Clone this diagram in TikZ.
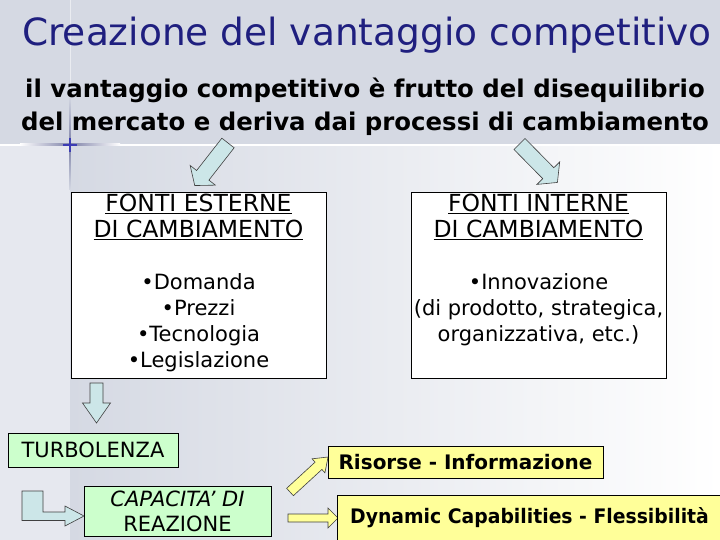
\documentclass[tikz,border=0pt]{standalone}
\usepackage{fontspec}
\setmainfont{DejaVu Sans}
\definecolor{bgtop}{HTML}{D5D9E3}
\definecolor{bgstrip}{HTML}{E6E8EF}
\definecolor{arrowblue}{HTML}{CCE6E8}
\definecolor{boxgreen}{HTML}{CCFFCC}
\definecolor{boxyellow}{HTML}{FFFF99}
\definecolor{navy}{HTML}{1F1F7F}
\definecolor{crossblue}{HTML}{3C3CB4}
\definecolor{crossgray}{HTML}{7E82A8}
\newcommand{\hdrline}[1]{{\fontsize{23.5}{26}\selectfont\underline{#1}}}
\begin{document}
\begin{tikzpicture}[x=1pt,y=-1pt,
  box/.style={draw=black, line width=0.8pt, rectangle, inner sep=0pt},
  txt/.style={align=center, inner sep=0pt},
  bluearrow/.style={draw=black!75, line width=0.6pt, fill=arrowblue, line join=miter},
  yellowarrow/.style={draw=black!75, line width=0.6pt, fill=boxyellow, line join=miter},
  pics/barrow/.style args={#1/#2/#3/#4}{code={
    \path[pic actions] (0,-#2) -- ({#1-#4},-#2) -- ({#1-#4},-#3) -- (#1,0)
      -- ({#1-#4},#3) -- ({#1-#4},#2) -- (0,#2) -- cycle;}}
]
\useasboundingbox (0,0) rectangle (720,540);
% background
\fill[bgtop] (0,0) rectangle (720,145);
\shade[left color=bgtop, right color=white] (70,145) rectangle (720,540);
\fill[bgstrip] (0,145) rectangle (70,540);
\fill[white] (0,144) rectangle (720,146);
\shade[left color=white, right color=crossgray] (20,144) rectangle (70,146);
\shade[left color=crossgray, right color=white] (70,144) rectangle (120,146);
\shade[top color=bgtop, bottom color=crossgray] (69.2,95) rectangle (70.8,145);
\shade[top color=crossgray, bottom color=bgtop] (69.2,145) rectangle (70.8,190);
\fill[crossblue] (63,144.2) rectangle (77,145.8);
\fill[crossblue] (69.2,138) rectangle (70.8,152);
\fill[white, opacity=0.5] (69.5,0) rectangle (70.5,95);

% title and subtitle
\node[txt, text=navy, font=\fontsize{37.5}{44}\selectfont] (title) at (367,35)
  {Creazione del vantaggio competitivo};
\node[txt, font=\fontsize{24.4}{33}\selectfont\bfseries] (sub) at (365,107)
  {il vantaggio competitivo è frutto del disequilibrio\\del mercato e deriva dai processi di cambiamento};

% block arrows from the statement
\pic[bluearrow, rotate=-128] at (228,143) {barrow=54/7.8/16/13};
\pic[bluearrow, rotate=-45.4] at (519.5,144) {barrow=54/7.8/16/13};

% boxes of sources
\node[box, fill=white, minimum width=255pt, minimum height=186pt] (ext) at (198.5,285) {};
\node[txt, anchor=north, font=\fontsize{21}{26}\selectfont] (extt) at (198.5,194)
  {\hdrline{FONTI ESTERNE}\\\hdrline{DI CAMBIAMENTO}\\[26pt]
   •Domanda\\•Prezzi\\•Tecnologia\\•Legislazione};
\node[box, fill=white, minimum width=255pt, minimum height=186pt] (int) at (538.5,285) {};
\node[txt, anchor=north, font=\fontsize{21}{26}\selectfont] (intt) at (538.5,194)
  {\hdrline{FONTI INTERNE}\\\hdrline{DI CAMBIAMENTO}\\[26pt]
   •Innovazione\\(di prodotto, strategica,\\organizzativa, etc.)};

% down arrow
\pic[bluearrow, rotate=-90] at (96.5,383) {barrow=40/6.5/14/20};

% turbolenza
\node[box, fill=boxgreen, minimum width=170pt, minimum height=34pt, font=\fontsize{21}{26}\selectfont] (turb) at (93,450) {TURBOLENZA};

% L arrow
\draw[bluearrow] (22,491) -- (43,491) -- (43,512) -- (65,512) -- (65,506) -- (84,516)
  -- (65,526) -- (65,520.5) -- (22,520.5) -- cycle;

% capacita
\node[box, fill=boxgreen, minimum width=187pt, minimum height=50pt] (cap) at (177.5,511) {};
\node[txt, font=\fontsize{21}{25}\selectfont] (capt) at (177.5,511) {\itshape CAPACITA’ DI\\REAZIONE};

% yellow arrows
\pic[yellowarrow, rotate=42.6] at (290,492) {barrow=51.7/5/9.5/13};
\pic[yellowarrow] at (288,518) {barrow=50/4/10/10};

% result boxes
\node[box, fill=boxyellow, minimum width=275pt, minimum height=32pt, font=\fontsize{20}{24}\selectfont\bfseries] (ris) at (465.5,462) {Risorse - Informazione};
\node[box, fill=boxyellow, minimum width=388pt, minimum height=50pt] (dyn) at (531,520) {};
\node[txt, anchor=west, font=\fontsize{20}{24}\selectfont\bfseries] (dynt) at (350,518) {\scalebox{0.94}[1]{Dynamic Capabilities - Flessibilità}};
\end{tikzpicture}
\end{document}
